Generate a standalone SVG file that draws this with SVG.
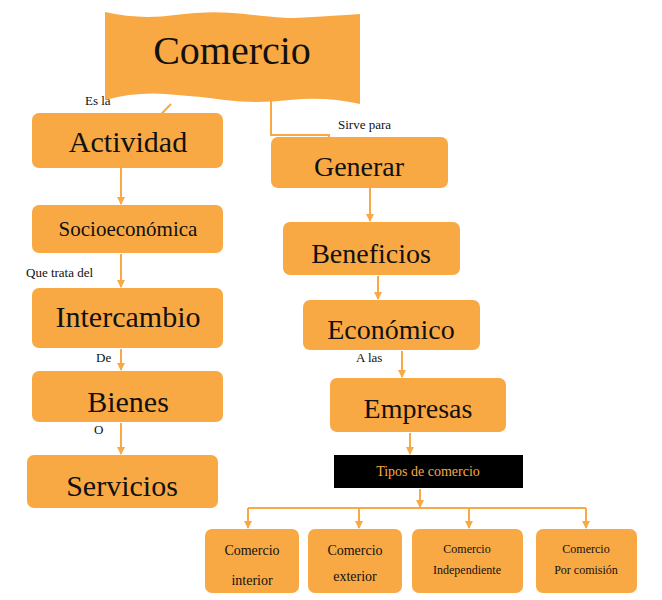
<svg xmlns="http://www.w3.org/2000/svg" width="662" height="600" viewBox="0 0 662 600">
<style>
.b{fill:#F9A944;}
.t{font-family:"Liberation Serif",serif;fill:#111;text-anchor:middle;}
.l{font-family:"Liberation Serif",serif;fill:#111;font-size:13px;}
.c{stroke:#F9A944;stroke-width:2;fill:none;marker-end:url(#a);}
</style>
<defs><marker id="a" markerWidth="8" markerHeight="8" refX="7" refY="4" orient="auto" markerUnits="userSpaceOnUse"><path d="M0,0L8,4L0,8z" fill="#F9A944"/></marker></defs>
<rect width="662" height="600" fill="#fff"/>
<g id="connectors">
<path class="c" d="M171,104L138,138"/>
<path class="c" d="M271,97V135H329V162"/>
<path class="c" d="M121,168V204"/>
<path class="c" d="M121,254V287"/>
<path class="c" d="M121,349V370"/>
<path class="c" d="M121,423V454"/>
<path class="c" d="M370,188V221"/>
<path class="c" d="M378,276V299"/>
<path class="c" d="M402,351V377"/>
<path class="c" d="M410,433V454"/>
<path class="c" d="M420,489V507"/>
<path d="M248,508H586" stroke="#F9A944" stroke-width="2"/>
<path class="c" d="M248,508V528"/>
<path class="c" d="M359,508V528"/>
<path class="c" d="M469,508V528"/>
<path class="c" d="M586,508V528"/>
<text class="l" x="85" y="105">Es la</text>
<text class="l" x="338" y="129">Sirve para</text>
<text class="l" x="26" y="277">Que trata del</text>
<text class="l" x="96" y="362">De</text>
<text class="l" x="94" y="434">O</text>
<text class="l" x="356" y="362">A las</text>
</g>
<g id="comercio"><path class="b" d="M105,12Q140,20 175,15T245,14T290,18T360,14V104Q325,96 290,100T225,100T165,94T105,100Z"/><text class="t" x="232" y="64" font-size="40">Comercio</text></g>
<g id="actividad"><rect class="b" x="32" y="113" width="191" height="55" rx="7"/><text class="t" x="128" y="152" font-size="30">Actividad</text></g>
<g id="socio"><rect class="b" x="32" y="205" width="191" height="48" rx="7"/><text class="t" x="128" y="236" font-size="21">Socioeconómica</text></g>
<g id="intercambio"><rect class="b" x="32" y="288" width="191" height="60" rx="7"/><text class="t" x="128" y="327" font-size="30">Intercambio</text></g>
<g id="bienes"><rect class="b" x="32" y="371" width="191" height="51" rx="7"/><text class="t" x="128" y="412" font-size="30">Bienes</text></g>
<g id="servicios"><rect class="b" x="27" y="455" width="191" height="53" rx="7"/><text class="t" x="122" y="496" font-size="30">Servicios</text></g>
<g id="generar"><rect class="b" x="271" y="137" width="177" height="51" rx="7"/><text class="t" x="359" y="176" font-size="28">Generar</text></g>
<g id="beneficios"><rect class="b" x="283" y="222" width="177" height="53" rx="7"/><text class="t" x="371" y="263" font-size="28">Beneficios</text></g>
<g id="economico"><rect class="b" x="303" y="300" width="177" height="50" rx="7"/><text class="t" x="391" y="339" font-size="28">Económico</text></g>
<g id="empresas"><rect class="b" x="330" y="378" width="176" height="54" rx="7"/><text class="t" x="418" y="418" font-size="28">Empresas</text></g>
<g id="tipos"><rect x="334" y="455" width="189" height="33" fill="#000"/><text class="t" x="428" y="476" font-size="14" style="fill:#F9A944">Tipos de comercio</text></g>
<g id="interior"><rect class="b" x="205" y="529" width="94" height="64" rx="7"/><text class="t" x="252" y="555" font-size="14">Comercio</text><text class="t" x="252" y="585" font-size="14">interior</text></g>
<g id="exterior"><rect class="b" x="308" y="529" width="94" height="64" rx="7"/><text class="t" x="355" y="555" font-size="14">Comercio</text><text class="t" x="355" y="581" font-size="14">exterior</text></g>
<g id="independiente"><rect class="b" x="412" y="529" width="111" height="64" rx="7"/><text class="t" x="467" y="553" font-size="12">Comercio</text><text class="t" x="467" y="574" font-size="12">Independiente</text></g>
<g id="comision"><rect class="b" x="536" y="529" width="101" height="64" rx="7"/><text class="t" x="586" y="553" font-size="12">Comercio</text><text class="t" x="586" y="574" font-size="12">Por comisión</text></g>
</svg>
